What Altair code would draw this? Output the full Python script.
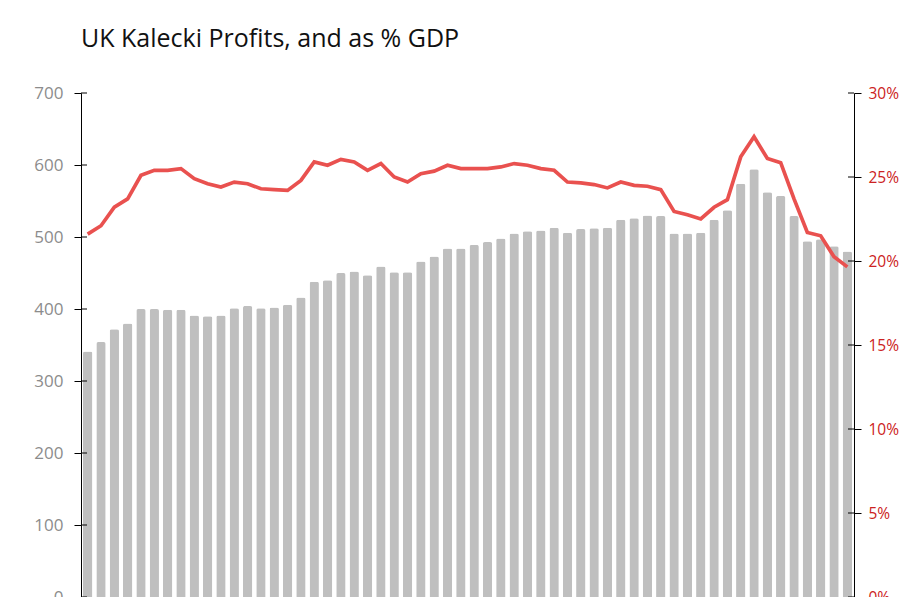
import altair as alt
import pandas as pd

years = list(range(1960, 2018))
profits = [341, 354, 372, 380, 400, 400, 399, 399, 391, 390, 391, 401, 404, 401, 402, 406,
           416, 438, 440, 450, 452, 447, 459, 451, 451, 466, 473, 484, 484, 489, 493, 498,
           505, 508, 509, 513, 506, 511, 512, 513, 524, 526, 530, 529, 505, 505, 506, 524,
           537, 574, 594, 562, 557, 529, 494, 497, 487, 480]
pct_gdp = [21.6, 22.1, 23.2, 23.7, 25.1, 25.4, 25.4, 25.5, 24.9, 24.6, 24.4, 24.7, 24.6, 24.3,
           24.25, 24.2, 24.8, 25.9, 25.7, 26.05, 25.9, 25.4, 25.8, 25.0, 24.7, 25.2, 25.35, 25.7,
           25.5, 25.5, 25.5, 25.6, 25.8, 25.7, 25.5, 25.4, 24.7, 24.65, 24.55, 24.35, 24.7, 24.5,
           24.45, 24.25, 22.95, 22.75, 22.5, 23.2, 23.65, 26.2, 27.4, 26.1, 25.85, 23.7, 21.7,
           21.5, 20.25, 19.65]

left_ticks = [0, 100, 200, 300, 400, 500, 600, 700]
right_ticks = [0, 0.05, 0.10, 0.15, 0.20, 0.25, 0.30]
x_tick_years = years[::4]

df = pd.DataFrame({"year": [str(y) for y in years], "profits": profits,
                   "pct": [p / 100 for p in pct_gdp]})
lt = pd.DataFrame({"v": left_ticks})
rt = pd.DataFrame({"v": right_ticks})

W, H = 773, 504
FONT = "Open Sans"

xaxis = alt.Axis(values=[str(y) for y in x_tick_years], bandPosition=0, tickOffset=-2,
                 labels=False, domainColor="black", tickColor="black", tickSize=7,
                 grid=False, title=None)
xenc = alt.X("year:O", title=None,
             scale=alt.Scale(paddingInner=0.3, paddingOuter=0.15), axis=xaxis)

laxis = alt.Axis(values=left_ticks, orient="left", domainColor="black",
                 tickColor="black", tickSize=7, labelPadding=11,
                 labelColor="#8C8C8C", labelFontSize=17, labelFont=FONT,
                 grid=False, title=None)
raxis = alt.Axis(values=right_ticks, orient="right", format=".0%",
                 domainColor="black", tickColor="black", tickSize=7,
                 labelPadding=7, labelColor="#CC2222", labelFontSize=15.5,
                 labelFont=FONT, grid=False, title=None)
lscale = alt.Scale(domain=[0, 700], nice=False)
rscale = alt.Scale(domain=[0, 0.30], nice=False)

bars = alt.Chart(df).mark_bar(color="#BFBFBF", cornerRadiusTopLeft=2,
                              cornerRadiusTopRight=2).encode(
    x=xenc,
    y=alt.Y("profits:Q", title=None, scale=lscale, axis=laxis)
)
lticks = alt.Chart(lt).mark_rule(color="black", strokeWidth=1).encode(
    y=alt.Y("v:Q", title=None, scale=lscale, axis=laxis),
    x=alt.value(0), x2=alt.value(6)
)
left = alt.layer(bars, lticks)

line = alt.Chart(df).mark_line(color="#E9514F", strokeWidth=3.7).encode(
    x=xenc,
    y=alt.Y("pct:Q", title=None, scale=rscale, axis=raxis)
)
rticks = alt.Chart(rt).mark_rule(color="black", strokeWidth=1).encode(
    y=alt.Y("v:Q", title=None, scale=rscale, axis=raxis),
    x=alt.value(W - 6), x2=alt.value(W)
)
right = alt.layer(line, rticks)

chart = alt.layer(left, right).resolve_scale(y="independent").properties(
    width=W, height=H,
    title=alt.TitleParams("UK Kalecki Profits, and as % GDP", anchor="start",
                          frame="group", fontSize=25, font=FONT, fontWeight="normal",
                          color="#111111", offset=32),
    autosize=alt.AutoSizeParams(type="none"),
    padding={"left": 73, "top": 85, "right": 47, "bottom": 0},
).configure_view(stroke=None)

chart.save("out.html", embed_options={"renderer": "svg", "actions": False})
